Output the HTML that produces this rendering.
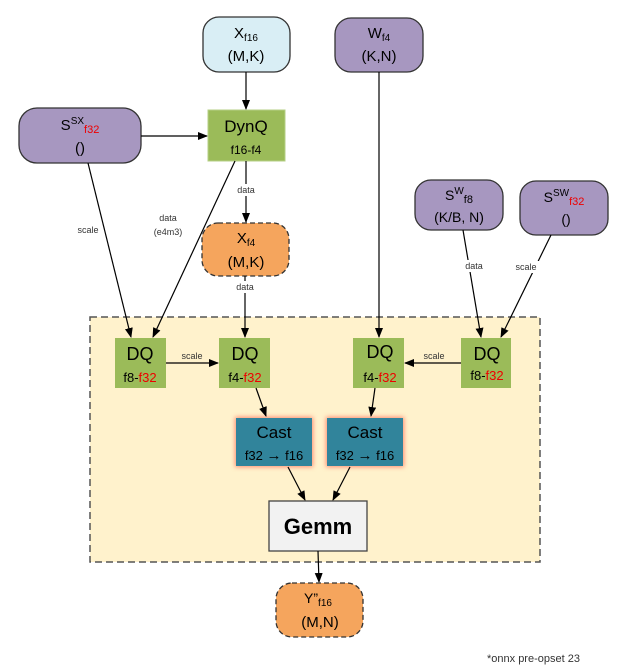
<!DOCTYPE html>
<html><head><meta charset="utf-8"><style>
html,body{margin:0;padding:0;background:#fff;}
svg{display:block;font-family:"Liberation Sans",sans-serif;}
</style></head><body>
<svg width="625" height="672" viewBox="0 0 625 672" xmlns="http://www.w3.org/2000/svg">
<defs>
<marker id="a" markerWidth="10" markerHeight="8" refX="9" refY="4" orient="auto" markerUnits="userSpaceOnUse"><path d="M0,0 L10,4 L0,8 z" fill="#000"/></marker>
<filter id="g" x="-20%" y="-20%" width="140%" height="140%"><feGaussianBlur stdDeviation="2.5"/></filter>
</defs>
<rect x="90" y="317" width="450" height="245" fill="#fff2cc" stroke="#555" stroke-width="1.5" stroke-dasharray="7,4"/>
<rect x="203" y="17" width="87" height="55" rx="16" fill="#d9eef5" stroke="#333" stroke-width="1.3"/>
<text x="246" y="38" font-size="15" text-anchor="middle">X<tspan font-size="10" dy="3">f16</tspan></text>
<text x="246" y="61" font-size="15" text-anchor="middle">(M,K)</text>
<rect x="335" y="18" width="88" height="54" rx="16" fill="#a797c0" stroke="#333" stroke-width="1.3"/>
<text x="379" y="38" font-size="15" text-anchor="middle">W<tspan font-size="10" dy="3">f4</tspan></text>
<text x="379" y="61" font-size="15" text-anchor="middle">(K,N)</text>
<rect x="19" y="108" width="122" height="55" rx="18" fill="#a797c0" stroke="#333" stroke-width="1.3"/>
<text x="80" y="130" font-size="15" text-anchor="middle">S<tspan font-size="10" dy="-6">SX</tspan><tspan font-size="11" dy="9" fill="#e00">f32</tspan></text>
<text x="80" y="153" font-size="15" text-anchor="middle">()</text>
<rect x="208" y="110" width="77" height="51" fill="#9bbb59" stroke="#b5cf85"/>
<text x="246" y="132" font-size="17" text-anchor="middle">DynQ</text>
<text x="246" y="154" font-size="12" text-anchor="middle">f16-f4</text>
<rect x="202" y="223" width="87" height="53" rx="16" fill="#f5a55d" stroke="#333" stroke-width="1.3" stroke-dasharray="5,3"/>
<text x="246" y="243" font-size="15" text-anchor="middle">X<tspan font-size="10" dy="3">f4</tspan></text>
<text x="246" y="267" font-size="15" text-anchor="middle">(M,K)</text>
<rect x="415" y="180" width="88" height="50" rx="16" fill="#a797c0" stroke="#333" stroke-width="1.3"/>
<text x="459" y="200" font-size="14" text-anchor="middle">S<tspan font-size="10" dy="-6">W</tspan><tspan font-size="11" dy="9">f8</tspan></text>
<text x="459" y="222" font-size="14" text-anchor="middle">(K/B, N)</text>
<rect x="520" y="181" width="88" height="54" rx="16" fill="#a797c0" stroke="#333" stroke-width="1.3"/>
<text x="564" y="202" font-size="14" text-anchor="middle">S<tspan font-size="10" dy="-6">SW</tspan><tspan font-size="11" dy="9" fill="#e00">f32</tspan></text>
<text x="566" y="224" font-size="14" text-anchor="middle">()</text>
<g font-size="18" text-anchor="middle">
<rect x="115" y="338" width="51" height="50" fill="#9bbb59"/>
<text x="140" y="360">DQ</text>
<rect x="219" y="338" width="51" height="50" fill="#9bbb59"/>
<text x="245" y="360">DQ</text>
<rect x="353" y="338" width="51" height="50" fill="#9bbb59"/>
<text x="380" y="358">DQ</text>
<rect x="461" y="338" width="50" height="50" fill="#9bbb59"/>
<text x="487" y="360">DQ</text>
</g>
<g font-size="13" text-anchor="middle">
<text x="140" y="382">f8-<tspan fill="#e00">f32</tspan></text>
<text x="245" y="382">f4-<tspan fill="#e00">f32</tspan></text>
<text x="380" y="382">f4-<tspan fill="#e00">f32</tspan></text>
<text x="487" y="380">f8-<tspan fill="#e00">f32</tspan></text>
</g>
<rect x="235" y="417" width="78" height="50" fill="#ff8a70" filter="url(#g)"/>
<rect x="326" y="417" width="78" height="50" fill="#ff8a70" filter="url(#g)"/>
<rect x="236" y="418" width="76" height="48" fill="#31849b"/>
<rect x="327" y="418" width="76" height="48" fill="#31849b"/>
<text x="274" y="438" font-size="17" text-anchor="middle">Cast</text>
<text x="274" y="460" font-size="13" text-anchor="middle">f32 <tspan font-size="15" font-weight="bold">→</tspan> f16</text>
<text x="365" y="438" font-size="17" text-anchor="middle">Cast</text>
<text x="365" y="460" font-size="13" text-anchor="middle">f32 <tspan font-size="15" font-weight="bold">→</tspan> f16</text>
<rect x="269" y="501" width="98" height="50" fill="#f2f2f2" stroke="#444" stroke-width="1.3"/>
<text x="318" y="534" font-size="22" font-weight="bold" text-anchor="middle">Gemm</text>
<rect x="276" y="583" width="87" height="54" rx="16" fill="#f5a55d" stroke="#333" stroke-width="1.3" stroke-dasharray="5,3"/>
<text x="318" y="603" font-size="14" text-anchor="middle">Y”<tspan font-size="10" dy="3">f16</tspan></text>
<text x="320" y="627" font-size="15" text-anchor="middle">(M,N)</text>
<g stroke="#000" stroke-width="1.2" fill="none" marker-end="url(#a)">
<line x1="246" y1="72" x2="246" y2="109"/>
<line x1="141" y1="136" x2="207" y2="136"/>
<line x1="246" y1="161" x2="246" y2="222"/>
<line x1="88" y1="163" x2="131" y2="337"/>
<line x1="235" y1="161" x2="153" y2="337"/>
<line x1="245" y1="276" x2="245" y2="337"/>
<line x1="379" y1="72" x2="379" y2="337"/>
<line x1="463" y1="230" x2="481" y2="337"/>
<line x1="551" y1="235" x2="501" y2="337"/>
<line x1="166" y1="363" x2="218" y2="363"/>
<line x1="461" y1="363" x2="405" y2="363"/>
<line x1="256" y1="388" x2="266" y2="416"/>
<line x1="375" y1="388" x2="371" y2="416"/>
<line x1="288" y1="467" x2="305" y2="500"/>
<line x1="350" y1="467" x2="333" y2="500"/>
<line x1="318" y1="551" x2="319" y2="582"/>
</g>
<g font-size="9" fill="#333" text-anchor="middle">
<rect x="233" y="184" width="26" height="12" fill="#fff"/>
<text x="246" y="193">data</text>
<text x="88" y="233">scale</text>
<text x="168" y="221">data</text>
<text x="168" y="235">(e4m3)</text>
<rect x="232" y="281" width="26" height="12" fill="#fff"/>
<text x="245" y="290">data</text>
<rect x="460" y="260" width="26" height="12" fill="#fff"/>
<text x="474" y="269">data</text>
<rect x="512" y="261" width="28" height="12" fill="#fff"/>
<text x="526" y="270">scale</text>
<text x="192" y="359">scale</text>
<text x="434" y="359">scale</text>
</g>
<text x="487" y="662" font-size="11" fill="#333">*onnx pre-opset 23</text>
</svg>
</body></html>
